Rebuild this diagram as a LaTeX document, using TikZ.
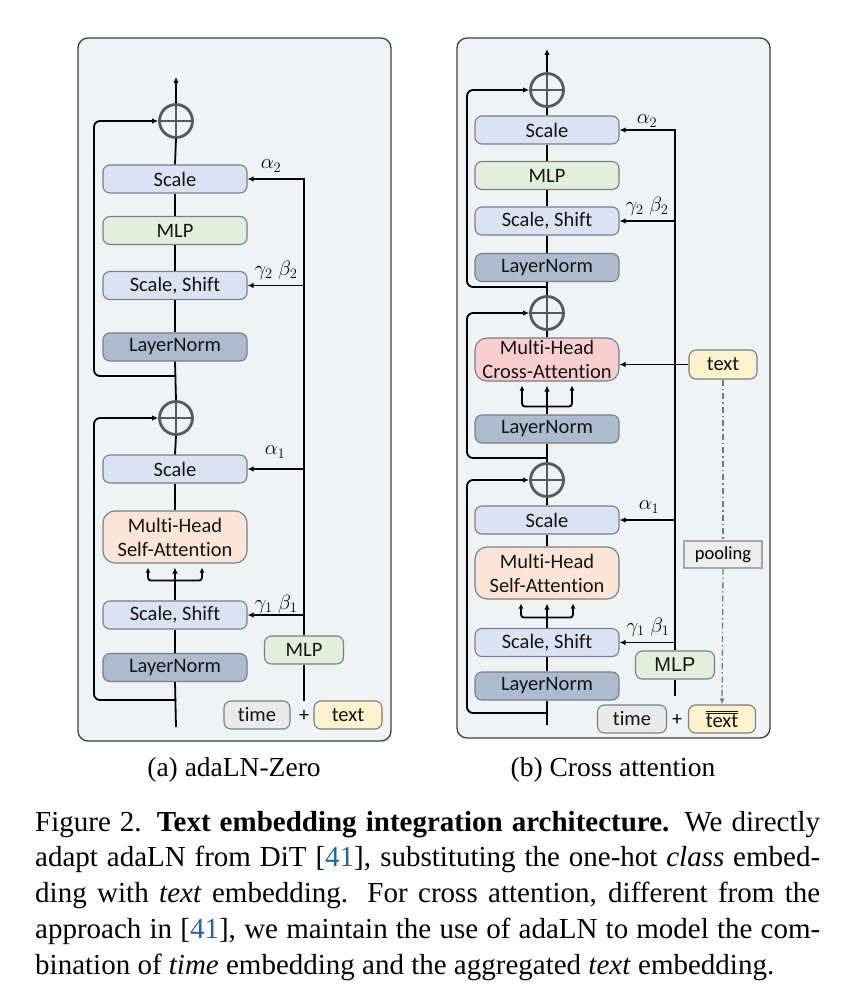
\documentclass[tikz,border=0pt]{standalone}
\usepackage{fontspec}
\setmainfont{Liberation Serif}
\newfontfamily\cfont[Ligatures=NoCommon]{Carlito}
\newfontfamily\afont{Liberation Sans}
\usetikzlibrary{arrows.meta,calc}
\definecolor{panelfill}{RGB}{239,243,244}
\definecolor{panelborder}{RGB}{64,64,64}
\definecolor{boxborder}{RGB}{118,126,138}
\definecolor{scalefill}{RGB}{218,227,243}
\definecolor{mlpfill}{RGB}{226,239,218}
\definecolor{lnfill}{RGB}{173,187,206}
\definecolor{attfill}{RGB}{251,229,214}
\definecolor{crossfill}{RGB}{248,207,206}
\definecolor{timefill}{RGB}{234,234,234}
\definecolor{textfill}{RGB}{255,242,204}
\definecolor{poolfill}{RGB}{237,237,237}
\definecolor{poolborder}{RGB}{166,166,166}
\definecolor{addgray}{RGB}{89,89,89}
\definecolor{citeblue}{RGB}{30,100,170}
\definecolor{dashgray}{RGB}{120,120,120}
\definecolor{boxtext}{RGB}{20,20,20}
\tikzset{
  panel/.style={draw=panelborder, fill=panelfill, line width=1.3pt, rounded corners=10pt},
  blk/.style={draw=boxborder, line width=1.1pt, rounded corners=7pt, minimum width=144pt,
    minimum height=28pt, inner sep=0pt, align=center, text=boxtext, font=\cfont\fontsize{20.5}{24}\selectfont},
  sc/.style={blk, fill=scalefill},
  mlpb/.style={blk, fill=mlpfill},
  lnb/.style={blk, fill=lnfill},
  attb/.style={blk, fill=attfill, rounded corners=12pt},
  crossb/.style={blk, fill=crossfill, rounded corners=12pt},
  timeb/.style={blk, fill=timefill, minimum width=66pt},
  textb/.style={blk, fill=textfill, minimum width=68pt},
  mlpr/.style={blk, fill=mlpfill, minimum width=79pt, font=\afont\fontsize{20}{24}\selectfont},
  poolb/.style={draw=poolborder, fill=poolfill, line width=1.1pt, minimum width=78pt, minimum height=27pt,
    inner sep=0pt, font=\cfont\fontsize{18.5}{22}\selectfont},
  plusn/.style={inner sep=0pt, font=\cfont\fontsize{20}{22}\selectfont},
  lab/.style={inner sep=0pt, font=\fontsize{22}{26}\selectfont},
  conn/.style={line width=1.8pt, black},
  arr/.style={conn, -{Latex[length=6pt,width=5.5pt]}},
  fork/.style={conn, {Latex[length=5pt,width=5pt]}-{Latex[length=5pt,width=5pt]}, rounded corners=3pt},
  skip/.style={arr, rounded corners=6pt},
  addc/.style={circle, draw=addgray, line width=2.8pt, minimum size=33pt, inner sep=0pt,
    path picture={\draw[addgray, line width=2.8pt]
      (path picture bounding box.north) -- (path picture bounding box.south)
      (path picture bounding box.west) -- (path picture bounding box.east);}},
  dashdot/.style={draw=dashgray, line width=1.3pt, dash pattern=on 6pt off 3pt on 1.5pt off 3pt},
}
\begin{document}
\begin{tikzpicture}[x=1pt,y=-1pt]
\useasboundingbox (0,0) rectangle (860,1000);
\fill[white] (0,0) rectangle (860,1000);

% panels
\draw[panel] (78,38) rectangle (391,741);
\draw[panel] (457,38) rectangle (770,738);

% ---------------- left panel (adaLN-Zero) ----------------
\node[addc] (La2) at (176,121) {};
\node[sc] (Ls2) at (175,179) {Scale};
\node[mlpb] (Lm2) at (175,230.5) {MLP};
\node[sc] (Lss2) at (175,285.5) {Scale, Shift};
\node[lnb] (Lln2) at (175,347) {LayerNorm};
\node[addc] (La1) at (176,418) {};
\node[sc] (Ls1) at (175,469) {Scale};
\node[attb, minimum height=52pt] (Latt) at (175,537) {Multi-Head\\Self-Attention};
\node[sc] (Lss1) at (175,615) {Scale, Shift};
\node[lnb] (Lln1) at (175,667.5) {LayerNorm};
\coordinate (Lin) at (176,727);
\coordinate (Lout) at (176,77);
\coordinate (Lsk1) at (176,700);
\coordinate (Lsk2) at (176,376);

\node[mlpb, minimum width=79pt] (Lmlp) at (304,650) {MLP};
\node[timeb] (Ltime) at (257,715) {time};
\node[textb] (Ltext) at (348,715) {text};
\node[plusn] (Lplus) at (304,716) {+};
\coordinate (Lend) at (304,701);

\draw[conn] (Lin) -- (Lln1.south);
\draw[conn] (Lln1.north) -- (Lss1.south);
\draw[arr] (Lss1.north) -- ($(Latt.south)+(0,4)$);
\draw[fork] ($(Latt.south)+(-27,4)$) -- ++(0,13) -- ++(54,0) -- ++(0,-13);
\draw[conn] (Latt.north) -- (Ls1.south);
\draw[conn] (Ls1.north) -- (La1.south);
\draw[conn] (La1.north) -- (Lln2.south);
\draw[conn] (Lln2.north) -- (Lss2.south);
\draw[conn] (Lss2.north) -- (Lm2.south);
\draw[conn] (Lm2.north) -- (Ls2.south);
\draw[conn] (Ls2.north) -- (La2.south);
\draw[arr] (La2.north) -- (Lout);
\draw[skip] (Lsk1) -- ++(-82,0) |- (La1.west);
\draw[skip] (Lsk2) -- ++(-82,0) |- (La2.west);

\draw[arr] (Lmlp.north) |- (Ls2.east);
\draw[arr] (Lmlp.north |- Lss2.east) -- (Lss2.east);
\draw[arr] (Lmlp.north |- Ls1.east) -- (Ls1.east);
\draw[arr] (Lmlp.north |- Lss1.east) -- (Lss1.east);
\draw[conn] (Lmlp.south) -- (Lend);

\node[lab] (La2l) at (271,166) {$\alpha_2$};
\node[lab] (Lgb2) at (276,270) {$\gamma_2\;\beta_2$};
\node[lab] (La1l) at (275,452) {$\alpha_1$};
\node[lab] (Lgb1) at (276,604) {$\gamma_1\;\beta_1$};

% ---------------- right panel (cross attention) ----------------
\node[addc] (Ra3) at (547,90) {};
\node[sc] (Rs2) at (547,130) {Scale};
\node[mlpb] (Rm2) at (547,175.5) {MLP};
\node[sc] (Rss2) at (547,221) {Scale, Shift};
\node[lnb] (Rln2) at (547,267.5) {LayerNorm};
\node[addc] (Ra2) at (547,313) {};
\node[crossb, minimum height=43pt] (Rcr) at (547,359.5) {Multi-Head\\Cross-Attention};
\node[lnb] (Rlnc) at (547,429) {LayerNorm};
\node[addc] (Ra1) at (547,480) {};
\node[sc] (Rs1) at (547,520) {Scale};
\node[attb, minimum height=52pt] (Ratt) at (547,573) {Multi-Head\\Self-Attention};
\node[sc] (Rss1) at (547,642.5) {Scale, Shift};
\node[lnb] (Rln1) at (547,686) {LayerNorm};
\coordinate (Rin) at (547,725);
\coordinate (Rout) at (547,49);
\coordinate (Rsk1) at (547,713);
\coordinate (Rsk2) at (547,458);
\coordinate (Rsk3) at (547,287);

\node[mlpr] (Rmlp) at (675,665) {MLP};
\node[timeb, minimum width=69pt] (Rtime) at (632,719) {time};
\node[textb, minimum width=67pt] (Rtb) at (722,719) {$\overline{\overline{\mbox{text}}}$};
\node[plusn] (Rplus) at (677,720) {+};
\coordinate (Rend) at (675,696);
\node[textb, minimum height=29pt] (Rtext) at (723,364.5) {text};
\node[poolb] (Rpool) at (723,554.5) {pooling};

\draw[conn] (Rin) -- (Rln1.south);
\draw[conn] (Rln1.north) -- (Rss1.south);
\draw[arr] (Rss1.north) -- ($(Ratt.south)+(0,4)$);
\draw[fork] ($(Ratt.south)+(-26,4)$) -- ++(0,14) -- ++(52,0) -- ++(0,-14);
\draw[conn] (Ratt.north) -- (Rs1.south);
\draw[conn] (Rs1.north) -- (Ra1.south);
\draw[conn] (Ra1.north) -- (Rlnc.south);
\draw[arr] (Rlnc.north) -- ($(Rcr.south)+(0,4)$);
\draw[fork] ($(Rcr.south)+(-25,4)$) -- ++(0,21) -- ++(50,0) -- ++(0,-21);
\draw[conn] (Rcr.north) -- (Ra2.south);
\draw[conn] (Ra2.north) -- (Rln2.south);
\draw[conn] (Rln2.north) -- (Rss2.south);
\draw[conn] (Rss2.north) -- (Rm2.south);
\draw[conn] (Rm2.north) -- (Rs2.south);
\draw[conn] (Rs2.north) -- (Ra3.south);
\draw[arr] (Ra3.north) -- (Rout);
\draw[skip] (Rsk1) -- ++(-80,0) |- (Ra1.west);
\draw[skip] (Rsk2) -- ++(-80,0) |- (Ra2.west);
\draw[skip] (Rsk3) -- ++(-80,0) |- (Ra3.west);

\draw[arr] (Rmlp.north) |- (Rs2.east);
\draw[arr] (Rmlp.north |- Rss2.east) -- (Rss2.east);
\draw[arr] (Rmlp.north |- Rs1.east) -- (Rs1.east);
\draw[arr] (Rmlp.north |- Rss1.east) -- (Rss1.east);
\draw[conn] (Rmlp.south) -- (Rend);
\draw[arr] (Rtext.west) -- (Rtext.west -| Rcr.east);
\draw[dashdot] (Rtext.south) -- (Rpool.north);
\draw[dashdot, -{Latex[length=6pt,width=5pt]}] (Rpool.south) -- (Rtb.north);

\node[lab] (Ra2l) at (647,121) {$\alpha_2$};
\node[lab] (Rgb2) at (647,206) {$\gamma_2\;\beta_2$};
\node[lab] (Ra1l) at (649,507) {$\alpha_1$};
\node[lab] (Rgb1) at (648,627) {$\gamma_1\;\beta_1$};

% ---------------- captions ----------------
\node[anchor=base, inner sep=0pt, font=\fontsize{27.5}{33}\selectfont] (capa) at (234,776) {(a) adaLN-Zero};
\node[anchor=base, inner sep=0pt, font=\fontsize{27.5}{33}\selectfont] (capb) at (613,776) {(b) Cross attention};
\node[anchor=base west, inner sep=0pt] (cap) at (35,831) {\parbox[t]{785pt}{\fontsize{29}{35.75}\selectfont
Figure 2. \textbf{Text embedding integration architecture.} We directly\linebreak
adapt adaLN from DiT [\textcolor{citeblue}{41}], substituting the one-hot \textit{class} embed-\linebreak
ding with \textit{text} embedding. For cross attention, different from the\linebreak
approach in [\textcolor{citeblue}{41}], we maintain the use of adaLN to model the com-\linebreak
bination of \textit{time} embedding and the aggregated \textit{text} embedding.}};
\end{tikzpicture}
\end{document}
